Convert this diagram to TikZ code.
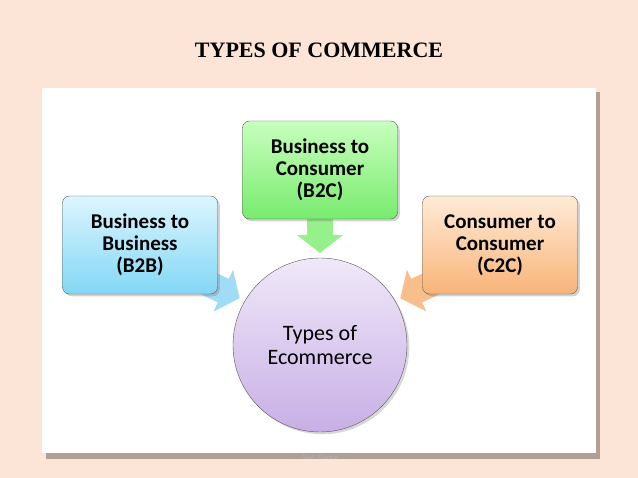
\documentclass[tikz,border=0pt]{standalone}
\usepackage{fontspec}
\setmainfont{Liberation Serif}
\newfontfamily\calfont{Carlito}
\usetikzlibrary{shadows}
\begin{document}
\begin{tikzpicture}[x=1pt,y=-1pt,
 box/.style={draw=gray!70!black,rounded corners=7pt,minimum width=155pt,minimum height=98pt,align=center,font=\calfont\bfseries\fontsize{21}{22}\selectfont,drop shadow={opacity=0.35}},
 arrshape/.pic={\fill[pic actions] (0,-13) -- (18,-13) -- (18,-23) -- (36,0) -- (18,23) -- (18,13) -- (0,13) -- cycle;}]
\useasboundingbox (0,0) rectangle (638,478);
\fill[fill={rgb,255:red,252;green,228;blue,214}] (0,0) rectangle (638,478);
\node (title) at (319,50) {\bfseries\fontsize{22}{26}\selectfont TYPES OF COMMERCE};
\fill[black,opacity=0.3] (46,92) rectangle (600,459);
\fill[white] (42,88) rectangle (596,453);
\pic[fill={rgb,255:red,150;green,240;blue,140},rotate=-90] (ag) at (320,217) {arrshape};
\pic[fill={rgb,255:red,160;green,220;blue,245},rotate=-25] (ab) at (207,283) {arrshape};
\pic[fill={rgb,255:red,248;green,190;blue,140},rotate=205] (ao) at (433,283) {arrshape};
\node[box,top color={rgb,255:red,220;green,245;blue,255},bottom color={rgb,255:red,130;green,215;blue,245}] (b2b) at (140,245) {Business to\\Business\\(B2B)};
\node[box,top color={rgb,255:red,200;green,255;blue,190},bottom color={rgb,255:red,120;green,235;blue,110}] (b2c) at (320,170) {Business to\\Consumer\\(B2C)};
\node[box,top color={rgb,255:red,255;green,235;blue,215},bottom color={rgb,255:red,248;green,180;blue,120}] (c2c) at (500,245) {Consumer to\\Consumer\\(C2C)};
\node[circle,draw=gray!70!black,minimum size=174pt,top color={rgb,255:red,240;green,232;blue,248},bottom color={rgb,255:red,200;green,175;blue,230},align=center,font=\calfont\fontsize{22}{24}\selectfont,drop shadow={opacity=0.3}] (c) at (320,345) {Types of\\Ecommerce};
\node[text=gray!60,font=\sffamily\fontsize{7}{8}\selectfont] (foot) at (320,457) {Alok Kumar};
\end{tikzpicture}
\end{document}
